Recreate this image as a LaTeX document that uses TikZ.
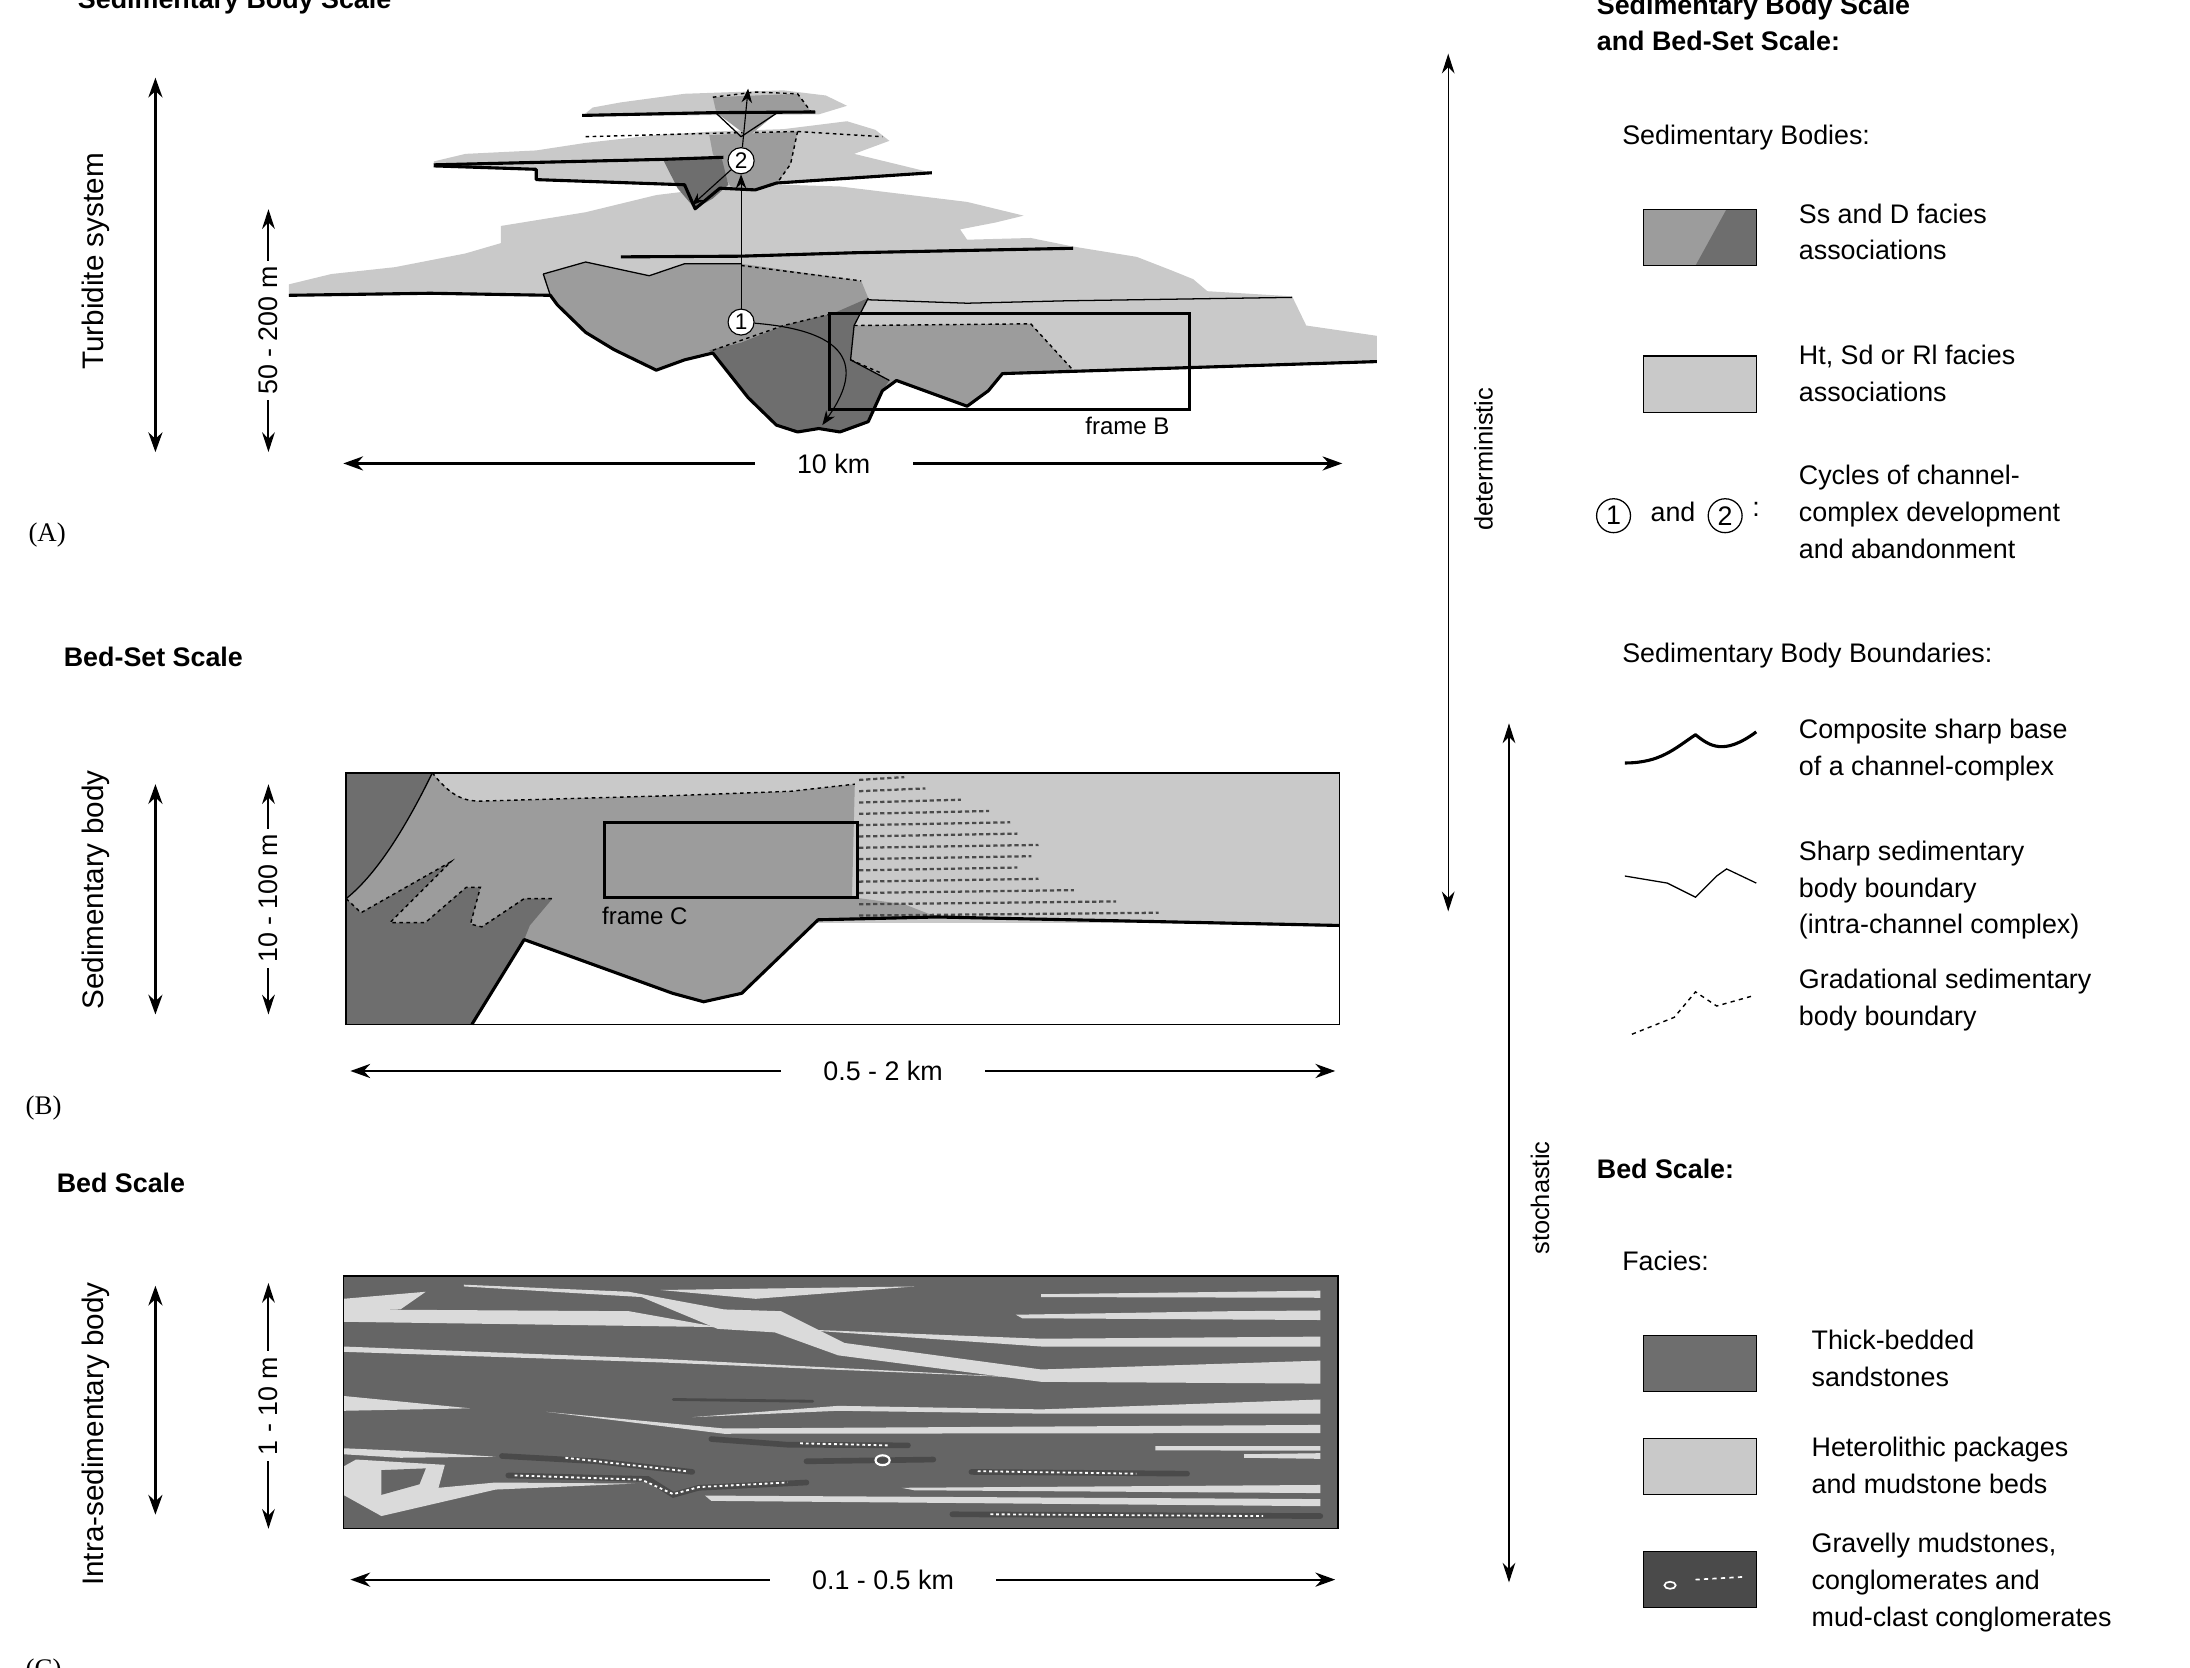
\documentclass[tikz,border=0pt]{standalone}
\usepackage{fontspec}
\setmainfont{Liberation Sans}
\newfontfamily\serif{Liberation Serif}
\usetikzlibrary{arrows.meta}
\definecolor{lg}{HTML}{C9C9C9}
\definecolor{mg}{HTML}{9C9C9C}
\definecolor{dg}{HTML}{6E6E6E}
\definecolor{vdg}{HTML}{4A4A4A}
\definecolor{bandc}{HTML}{DADADA}
\tikzset{
 dbl/.style={{Stealth[length=14pt,width=10pt]}-{Stealth[length=14pt,width=10pt]},line width=1.6pt},
 thinarr/.style={{Stealth[length=14pt,width=9pt]}-{Stealth[length=14pt,width=9pt]},line width=0.8pt},
 txt/.style={font=\fontsize{19}{26}\selectfont,anchor=north west,align=left,inner sep=0},
 ttl/.style={font=\fontsize{19}{26}\selectfont\bfseries,anchor=north west,align=left,inner sep=0},
 lbl/.style={font=\fontsize{19}{22}\selectfont,fill=white,inner sep=4pt},
 rlbl/.style={font=\fontsize{21}{22}\selectfont,rotate=90,inner sep=0},
 pl/.style={font=\fontsize{19}{22}\selectfont\serif,anchor=base west,inner sep=0},
 circ/.style={circle,draw,fill=white,line width=0.8pt,inner sep=1.5pt,font=\fontsize{16}{16}\selectfont},
 bcirc/.style={circle,draw,line width=0.9pt,minimum size=24pt,inner sep=0pt,font=\fontsize{19}{19}\selectfont},
 bnd/.style={line width=2.2pt,line join=round},
 thn/.style={line width=0.9pt,line join=round},
 dot/.style={dashed,dash pattern=on 2.5pt off 2.5pt,line width=1pt},
 lens/.style={vdg,line width=4pt,line cap=round},
 wd/.style={white,dash pattern=on 2pt off 2pt,line width=1.3pt},
}
\begin{document}
\begin{tikzpicture}[x=1pt,y=-1pt]
\useasboundingbox (0,0) rectangle (1550,1180);
\clip (0,0) rectangle (1550,1180);
% ---------- Panel A ----------
\node[ttl] (ta) at (55,-8) {Sedimentary Body Scale};
\coordinate (a1) at (110,55); \coordinate (a2) at (110,320);
\draw[dbl] (a1) -- (a2);
\node[rlbl] (la) at (68,185) {Turbidite system};
\coordinate (b1) at (190,148); \coordinate (b2) at (190,320);
\draw[thinarr,line width=1.4pt] (b1) -- (b2);
\node[lbl,rotate=90] (lb) at (190,234) {50 - 200 m};
\coordinate (h1) at (243,328); \coordinate (h2) at (950,328);
\draw[dbl] (h1) -- (h2);
\node[lbl,inner xsep=30pt] (lh) at (590,328) {10 km};
\node[pl] (pa) at (20,383) {(A)};
\begin{scope}[shift={(204.5,36)},x=0.5pt,y=-0.243pt]
 \fill[lg] (0,680) -- (60,650) -- (150,630) -- (250,590) -- (300,560) -- (300,510) -- (420,470) -- (480,440) -- (520,420) -- (600,400) -- (700,390) -- (780,395) -- (880,420) -- (960,440) -- (1040,480) -- (1000,500) -- (950,520) -- (960,550) -- (1050,545) -- (1110,570) -- (1200,600) -- (1250,640) -- (1280,665) -- (1300,700) -- (1420,715) -- (1440,800) -- (1540,830) -- (1540,905) -- (1010,940) -- (990,990) -- (960,1035) -- (940,1020) -- (860,960) -- (840,990) -- (820,1080) -- (780,1110) -- (750,1100) -- (720,1110) -- (690,1090) -- (650,1010) -- (600,880) -- (560,900) -- (520,930) -- (460,870) -- (420,820) -- (380,740) -- (370,712) -- (200,706) -- (0,712) -- cycle;
 \fill[mg] (360,650) -- (420,615) -- (510,655) -- (560,620) -- (640,620) -- (810,670) -- (820,720) -- (800,800) -- (1050,795) -- (1110,930) -- (1010,940) -- (990,990) -- (960,1035) -- (940,1020) -- (860,960) -- (840,990) -- (820,1080) -- (780,1110) -- (750,1100) -- (720,1110) -- (690,1090) -- (650,1010) -- (600,880) -- (560,900) -- (520,930) -- (460,870) -- (420,820) -- (380,740) -- (370,712) -- cycle;
 \fill[dg] (595,872) -- (640,850) -- (700,800) -- (770,765) -- (820,720) -- (800,800) -- (795,900) -- (850,960) -- (840,990) -- (820,1080) -- (780,1110) -- (750,1100) -- (720,1110) -- (690,1090) -- (650,1010) -- cycle;
 \draw[thn] (360,650) -- (420,615) -- (510,655) -- (560,620) -- (640,620);
 \draw[thn] (360,650) -- (370,712);
 \draw[thn] (820,720) -- (800,800) -- (795,900) -- (850,960);
 \draw[dot] (640,625) -- (810,670);
 \draw[dot] (600,872) -- (700,800) -- (770,765);
 \draw[dot] (800,800) -- (1050,795) -- (1110,930);
 \draw[dot] (795,900) -- (840,940);
 \draw[thn] (820,725) -- (960,735) -- (1100,728) -- (1420,718);
 \draw[bnd] (470,600) -- (640,598) -- (800,588) -- (1110,575);
 \draw[bnd] (0,712) -- (200,706) -- (370,712) -- (380,740) -- (420,820) -- (460,870) -- (520,930) -- (560,900) -- (600,880) -- (650,1010) -- (690,1090) -- (720,1110) -- (750,1100) -- (780,1110) -- (820,1080) -- (840,990) -- (860,960) -- (940,1020) -- (960,1035) -- (990,990) -- (1010,940) -- (1540,905);
 \fill[lg] (205,322) -- (250,300) -- (350,290) -- (420,268) -- (520,245) -- (600,235) -- (700,228) -- (790,205) -- (830,230) -- (850,262) -- (800,300) -- (860,330) -- (910,355) -- (690,385) -- (660,405) -- (610,400) -- (575,460) -- (560,390) -- (350,375) -- (350,345) -- (205,335) -- cycle;
 \fill[mg] (595,245) -- (720,235) -- (710,330) -- (690,388) -- (660,405) -- (625,395) -- (600,300) -- cycle;
 \fill[dg] (530,318) -- (612,308) -- (622,390) -- (600,430) -- (575,460) -- (550,400) -- cycle;
 \draw[dot] (420,250) -- (600,240) -- (720,235) -- (840,250);
 \draw[dot] (720,235) -- (710,330) -- (690,388);
 \draw[bnd] (205,332) -- (530,316) -- (615,310);
 \draw[bnd] (205,335) -- (350,345) -- (350,375) -- (560,390) -- (575,460) -- (610,400) -- (660,405) -- (690,385) -- (910,355);
 \fill[lg] (415,190) -- (430,165) -- (470,150) -- (560,125) -- (700,115) -- (760,130) -- (790,160) -- (750,185) -- cycle;
 \fill[mg] (600,135) -- (720,125) -- (740,180) -- (690,182) -- (650,250) -- (605,180) -- cycle;
 \draw[dot] (600,135) -- (660,120) -- (720,125) -- (740,180);
 \draw[bnd] (415,188) -- (600,180) -- (745,178);
 \draw[thn] (605,182) -- (640,250) -- (690,182);
 \node[circ] (c1) at (640,790) {1};
 \node[circ] (c2) at (640,320) {2};
 \coordinate (ctop) at (650,110);
 \coordinate (cbot) at (755,1090);
 \coordinate (cdk) at (570,450);
 \draw[-{Stealth[length=10pt]},line width=0.8pt] (c1) -- (c2);
 \draw[-{Stealth[length=10pt]},line width=0.8pt] (c2) -- (ctop);
 \draw[-{Stealth[length=9pt]},line width=0.8pt] (c2) -- (cdk);
 \draw[-{Stealth[length=10pt]},line width=0.8pt] (c1) .. controls (820,820) and (800,960) .. (cbot);
 \draw[line width=2pt] (765,765) rectangle (1275,1045);
\end{scope}
\node[txt,font=\fontsize{17}{20}\selectfont] (fb) at (768,295) {frame B};
% ---------- Panel B ----------
\node[ttl] (tb) at (45,458) {Bed-Set Scale};
\coordinate (d1) at (110,555); \coordinate (d2) at (110,718);
\draw[dbl] (d1) -- (d2);
\node[rlbl] (lsb) at (68,630) {Sedimentary body};
\coordinate (e1) at (190,555); \coordinate (e2) at (190,718);
\draw[thinarr,line width=1.4pt] (e1) -- (e2);
\node[lbl,rotate=90] (le) at (190,636) {10 - 100 m};
\fill[white] (245,547) rectangle (948,725);
\fill[lg] (245,547) rectangle (948,653);
\fill[lg] (600,653) -- (948,653) -- (948,656) -- (663,650) -- cycle;
\fill[mg] (306,547) .. controls (320,565) and (330,567) .. (340,567) -- (480,563) -- (560,560) -- (605,555) -- (603,635) -- (640,640) -- (663,649) -- (579,651) -- (525,703) -- (498,709) -- (476,703) -- (371,665) -- (245,665) -- (245,547) -- cycle;
\draw[dot] (306,547) .. controls (320,565) and (330,567) .. (340,567) -- (480,563) -- (560,560) -- (605,555);
\foreach \y/\e in {552/640,560/655,568/680,576/700,584/715,592/720,600/735,608/730,616/720,624/735,632/760,640/790,648/820}
  \draw[dashed,dash pattern=on 3pt off 2pt,line width=1.6pt,vdg] (608,\y) -- (\e,\y-2);
\fill[dg] (245,547) -- (306,547) .. controls (285,590) and (265,620) .. (245,636) -- (255.5,646) -- (319,610) -- (276,653) -- (301,653) -- (330,628) -- (340,628) -- (333,654) -- (341,656) -- (371,636) -- (391,636) -- (375,655) -- (371,665) -- (334,725) -- (245,725) -- cycle;
\draw[thn] (306,547) .. controls (285,590) and (265,620) .. (245,636);
\draw[dot] (245,636) -- (255.5,646) -- (319,610) -- (276,653) -- (301,653) -- (330,628) -- (340,628) -- (333,654) -- (341,656) -- (371,636) -- (391,636);
\draw[bnd] (334,725) -- (371,665) -- (476,703) -- (498,709) -- (525,703) -- (579,651) -- (663,649) -- (948,655);
\draw[line width=1pt] (245,547) rectangle (948,725);
\draw[line width=2pt] (428,582) rectangle (607,635);
\node[txt,font=\fontsize{17}{20}\selectfont] (fc) at (426,642) {frame C};
\coordinate (g1) at (248,758); \coordinate (g2) at (945,758);
\draw[dbl] (g1) -- (g2);
\node[lbl,inner xsep=30pt] (lg2) at (625,758) {0.5 - 2 km};
\node[pl] (pb) at (18,789) {(B)};
% ---------- Panel C ----------
\node[ttl] (tc) at (40,830) {Bed Scale};
\coordinate (k1) at (110,910); \coordinate (k2) at (110,1072);
\draw[dbl] (k1) -- (k2);
\node[rlbl] (lc) at (68,1015) {Intra-sedimentary body};
\coordinate (m1) at (190,908); \coordinate (m2) at (190,1082);
\draw[thinarr,line width=1.4pt] (m1) -- (m2);
\node[lbl,rotate=90] (lm) at (190,995) {1 - 10 m};
\begin{scope}
\clip (243,903) rectangle (947,1082);
\fill[dg!92!black] (243,903) rectangle (947,1082);
\begin{scope}[shift={(243,903)},x=0.449pt,y=-0.25pt]
 \fill[bandc] (0,65) -- (130,45) -- (90,95) -- (0,100) -- cycle;
 \fill[bandc] (0,95) -- (450,100) -- (590,145) -- (0,130) -- cycle;
 \fill[bandc] (190,25) -- (450,45) -- (600,95) -- (690,100) -- (790,190) -- (1100,265) -- (1540,240) -- (1540,305) -- (1100,300) -- (780,225) -- (680,160) -- (590,150) -- (470,60) -- (190,30) -- cycle;
 \fill[bandc] (500,40) -- (900,30) -- (650,65) -- cycle;
 \fill[bandc] (1100,52) -- (1540,42) -- (1540,62) -- (1100,60) -- cycle;
 \fill[bandc] (1060,110) -- (1400,100) -- (1540,98) -- (1540,125) -- (1070,120) -- cycle;
 \fill[bandc] (700,150) -- (1100,178) -- (1540,172) -- (1540,200) -- (1100,200) -- cycle;
 \fill[bandc] (0,200) -- (500,235) -- (1100,290) -- (500,245) -- (0,215) -- cycle;
 \fill[bandc] (0,340) -- (200,375) -- (0,382) -- cycle;
 \fill[bandc] (320,385) -- (600,432) -- (1540,422) -- (1540,445) -- (600,447) -- cycle;
 \fill[bandc] (550,400) -- (780,368) -- (1100,378) -- (1540,350) -- (1540,390) -- (1100,390) -- (780,382) -- cycle;
 \fill[bandc] (1280,482) -- (1540,482) -- (1540,495) -- (1280,494) -- cycle;
 \fill[bandc] (1420,505) -- (1540,502) -- (1540,518) -- (1420,515) -- cycle;
 \fill[bandc] (880,600) -- (1540,592) -- (1540,615) -- (900,607) -- cycle;
 \fill[bandc] (570,622) -- (1540,632) -- (1540,652) -- (580,637) -- cycle;
 \fill[bandc] (0,488) -- (90,495) -- (240,512) -- (90,515) -- (0,505) -- cycle;
 \fill[bandc] (20,520) -- (160,535) -- (150,600) -- (240,585) -- (460,588) -- (240,605) -- (60,680) -- (20,640) -- (0,620) -- (0,540) -- cycle;
 \fill[dg!92!black] (60,550) -- (130,545) -- (120,590) -- (60,620) -- cycle;
 \draw[lens] (250,510) -- (400,525) -- (550,555);
 \draw[lens] (260,565) -- (480,575) -- (520,620) -- (560,600) -- (730,585);
 \draw[lens] (580,462) -- (700,478) -- (890,480);
 \draw[lens] (730,525) -- (930,520);
 \draw[lens] (990,555) -- (1330,560);
 \draw[lens] (960,675) -- (1540,680);
 \draw[lens,line width=2pt] (520,350) -- (740,355);
 \draw[wd] (350,515) -- (540,553);
 \draw[wd] (270,565) -- (470,577) -- (520,618) -- (560,598) -- (700,585);
 \draw[wd] (720,474) -- (860,480);
 \draw[wd] (1000,553) -- (1250,560);
 \draw[wd] (1020,675) -- (1450,680);
 \draw[white,line width=1.5pt] (850,522) ellipse (5pt and 3.5pt);
\end{scope}
\end{scope}
\draw[line width=1pt] (243,903) rectangle (947,1082);
\coordinate (n1) at (248,1118); \coordinate (n2) at (945,1118);
\draw[dbl] (n1) -- (n2);
\node[lbl,inner xsep=30pt] (ln) at (625,1118) {0.1 - 0.5 km};
\node[pl] (pc) at (18,1187) {(C)};
% ---------- Right side ----------
\node[ttl] (tr) at (1130,-4) {Sedimentary Body Scale\\and Bed-Set Scale:};
\coordinate (p1) at (1025,38); \coordinate (p2) at (1025,645);
\draw[thinarr] (p1) -- (p2);
\node[rlbl,font=\fontsize{18}{20}\selectfont] (ld) at (1050,325) {deterministic};
\coordinate (q1) at (1068,512); \coordinate (q2) at (1068,1120);
\draw[thinarr] (q1) -- (q2);
\node[rlbl,font=\fontsize{18}{20}\selectfont] (ls) at (1090,848) {stochastic};
\node[txt] (sb) at (1148,88) {Sedimentary Bodies:};
\fill[mg] (1163,148) rectangle (1243,188);
\fill[dg] (1200,188) -- (1222,148) -- (1243,148) -- (1243,188) -- cycle;
\draw[line width=0.8pt] (1163,148) rectangle (1243,188);
\node[txt] (t1) at (1273,144) {Ss and D facies\\associations};
\fill[lg] (1163,252) rectangle (1243,292);
\draw[line width=0.8pt] (1163,252) rectangle (1243,292);
\node[txt] (t2) at (1273,244) {Ht, Sd or Rl facies\\associations};
\node[bcirc] (k11) at (1142,365) {1};
\node[txt] (kand) at (1168,355) {and};
\node[bcirc] (k22) at (1221,365) {2};
\node[txt] (kc) at (1240,355) {:};
\node[txt] (t3) at (1273,329) {Cycles of channel-\\complex development\\and abandonment};
\node[txt] (sbb) at (1148,455) {Sedimentary Body Boundaries:};
\draw[bnd] (1150,540) .. controls (1175,540) and (1185,530) .. (1200,520) .. controls (1210,528) and (1220,535) .. (1243,518);
\node[txt] (t4) at (1273,509) {Composite sharp base\\of a channel-complex};
\draw[line width=0.9pt] (1150,620) -- (1180,625) -- (1200,635) -- (1215,620) -- (1222,615) -- (1243,625);
\node[txt] (t5) at (1273,595) {Sharp sedimentary\\body boundary\\(intra-channel complex)};
\draw[dashed,dash pattern=on 3pt off 3pt,line width=1pt] (1155,732) -- (1185,720) -- (1200,702) -- (1215,712) -- (1240,705);
\node[txt] (t6) at (1273,686) {Gradational sedimentary\\body boundary};
\node[ttl] (tbs) at (1130,820) {Bed Scale:};
\node[txt] (tf) at (1148,885) {Facies:};
\fill[dg] (1163,945) rectangle (1243,985);
\draw[line width=0.8pt] (1163,945) rectangle (1243,985);
\node[txt] (t7) at (1282,941) {Thick-bedded\\sandstones};
\fill[lg] (1163,1018) rectangle (1243,1058);
\draw[line width=0.8pt] (1163,1018) rectangle (1243,1058);
\node[txt] (t8) at (1282,1017) {Heterolithic packages\\and mudstone beds};
\fill[vdg] (1163,1098) rectangle (1243,1138);
\draw[line width=0.8pt] (1163,1098) rectangle (1243,1138);
\draw[white,line width=1.2pt] (1182,1122) ellipse (4pt and 2.5pt);
\draw[white,dashed,dash pattern=on 3pt off 3pt,line width=1.2pt] (1200,1118) -- (1235,1116);
\node[txt] (t9) at (1282,1085) {Gravelly mudstones,\\conglomerates and\\mud-clast conglomerates};
\end{tikzpicture}
\end{document}
